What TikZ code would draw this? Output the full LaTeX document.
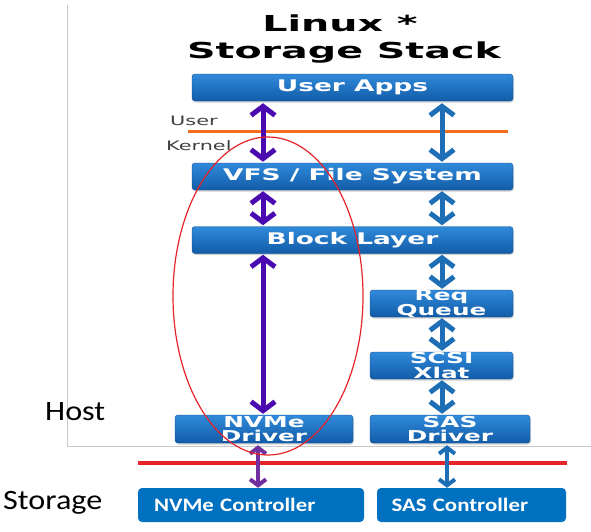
\documentclass[tikz,border=0pt]{standalone}
\usepackage{fontspec}
\usepackage{tikz}
\usetikzlibrary{arrows.meta, shadows}
\newfontfamily\titlefont[FakeStretch=1.8]{DejaVu Sans}
\newfontfamily\boxfont[FakeStretch=1.65]{DejaVu Sans}
\newfontfamily\ukfont[FakeStretch=1.6]{DejaVu Sans}
\newfontfamily\ctrlfont[FakeStretch=1.2]{Carlito}
\newfontfamily\hostfont[FakeStretch=1.15]{Carlito}
\definecolor{boxtop}{RGB}{48,138,218}
\definecolor{boxbot}{RGB}{18,92,168}
\definecolor{boxline}{RGB}{14,72,140}
\definecolor{kpurple}{RGB}{75,10,175}
\definecolor{lpurple}{RGB}{112,48,160}
\definecolor{kblue}{RGB}{30,110,182}
\definecolor{ctrlblue}{RGB}{0,112,192}
\definecolor{hostred}{RGB}{230,35,40}
\definecolor{uorange}{RGB}{245,110,30}
\definecolor{framegray}{RGB}{200,200,200}
\tikzset{
	layer/.style={
		draw=boxline,
		rounded corners=3pt,
		top color=boxtop,
		bottom color=boxbot,
		drop shadow={opacity=0.35, shadow xshift=1pt, shadow yshift=-1.5pt},
		minimum height=27pt,
		inner sep=0pt,
		text=white,
		font={\boxfont\bfseries\fontsize{16}{16}\selectfont}
	},
	twoline/.style={
		text=white,
		align=center,
		inner sep=0pt,
		font={\boxfont\bfseries\fontsize{15}{14.5}\selectfont}
	},
	ctrl/.style={
		fill=ctrlblue,
		rounded corners=4pt,
		minimum height=34pt,
		inner sep=0pt,
		text=white,
		font={\ctrlfont\bfseries\fontsize{19}{19}\selectfont}
	}
}

\begin{document}
\begin{tikzpicture}[x=1pt, y=-1pt]
	\tikzset{ledge/.style={{Straight Barb[length=9pt,width=24pt]}-{Straight Barb[length=9pt,width=24pt]}, line width=5pt, kpurple}}
	\tikzset{redge/.style={{Straight Barb[length=9pt,width=24pt]}-{Straight Barb[length=9pt,width=24pt]}, line width=5pt, kblue}}
	\tikzset{bedge/.style={{Straight Barb[length=6pt,width=16pt]}-{Straight Barb[length=6pt,width=16pt]}, line width=4pt}}
	\useasboundingbox (0,0) rectangle (591,531);
	
	% frame and split lines
	\draw[framegray, line width=0.8pt] (67,5) -- (67,446) -- (591,446);
	\draw[uorange, line width=3pt] (188,131) -- (508,131);
	\draw[hostred, line width=3.5pt] (138,463) -- (567,463);
	
	% title
	\node(title1) at (340,31) [anchor=base, font={\titlefont\bfseries\fontsize{22}{22}\selectfont}] {Linux *};
	\node(title2) at (344,58) [anchor=base, font={\titlefont\bfseries\fontsize{22}{22}\selectfont}] {Storage Stack};
	
	\node(user) at (170,125) [anchor=base west, inner sep=0pt, text=black!75, font={\ukfont\fontsize{13}{13}\selectfont}] {User};
	\node(kernel) at (166,150) [anchor=base west, inner sep=0pt, text=black!75, font={\ukfont\fontsize{13}{13}\selectfont}] {Kernel};
	\node(host) at (45,412) [anchor=west, inner sep=0pt, font={\hostfont\fontsize{28}{28}\selectfont}] {Host};
	\node(storage) at (3,503) [anchor=west, inner sep=0pt, font={\hostfont\fontsize{28}{28}\selectfont}] {Storage};
	
	% stack
	\node(apps) at (352.5,87.5) [layer, minimum width=321pt] {User Apps};
	\node(vfs) at (352.5,176.5) [layer, minimum width=321pt] {VFS / File System};
	\node(block) at (352.5,240) [layer, minimum width=321pt] {Block Layer};
	\node(req) at (441.5,303.5) [layer, minimum width=143pt] {};
	\node(scsi) at (441.5,365.5) [layer, minimum width=143pt] {};
	\node(nvmed) at (264,429) [layer, minimum width=178pt, minimum height=28pt] {};
	\node(sasd) at (450,429) [layer, minimum width=160pt, minimum height=28pt] {};
	\node(req-t) at (req) [twoline] {Req\\Queue};
	\node(scsi-t) at (scsi) [twoline] {SCSI\\Xlat};
	\node(nvmed-t) at (nvmed) [twoline] {NVMe\\Driver};
	\node(sasd-t) at (sasd) [twoline] {SAS\\Driver};
	
	\node(nvmec) at (251,505) [ctrl, minimum width=226pt, text width=194pt, align=left] {NVMe Controller};
	\node(sasc) at (471.5,505) [ctrl, minimum width=189pt, text width=160pt, align=left] {SAS Controller};
	
	\coordinate(lcol) at (263,0);
	\coordinate(rcol) at (442,0);
	\coordinate(lbot) at (258,0);
	\coordinate(rbot) at (447,0);
	
	\draw[ledge, shorten <=2pt, shorten >=1pt] (apps.south -| lcol) -- (vfs.north -| lcol);
	\draw[ledge, shorten <=1pt, shorten >=1pt] (vfs.south -| lcol) -- (block.north -| lcol);
	\draw[ledge, shorten <=1pt, shorten >=1pt] (block.south -| lcol) -- (nvmed.north -| lcol);
	
	\draw[redge, shorten <=2pt, shorten >=1pt] (apps.south -| rcol) -- (vfs.north -| rcol);
	\draw[redge, shorten <=1pt, shorten >=1pt] (vfs.south -| rcol) -- (block.north -| rcol);
	\draw[redge, shorten <=1pt, shorten >=1pt] (block.south -| rcol) -- (req.north -| rcol);
	\draw[redge, shorten <=1pt, shorten >=1pt] (req.south -| rcol) -- (scsi.north -| rcol);
	\draw[redge, shorten <=1pt, shorten >=1pt] (scsi.south -| rcol) -- (sasd.north -| rcol);
	
	\draw[bedge, lpurple, shorten <=2pt] (nvmed.south -| lbot) -- (nvmec.north -| lbot);
	\draw[bedge, kblue, shorten <=2pt] (sasd.south -| rbot) -- (sasc.north -| rbot);
	
	% NVMe path
	\draw[hostred, line width=1.2pt] (268,296) ellipse [x radius=95, y radius=159];
\end{tikzpicture}
\end{document}
